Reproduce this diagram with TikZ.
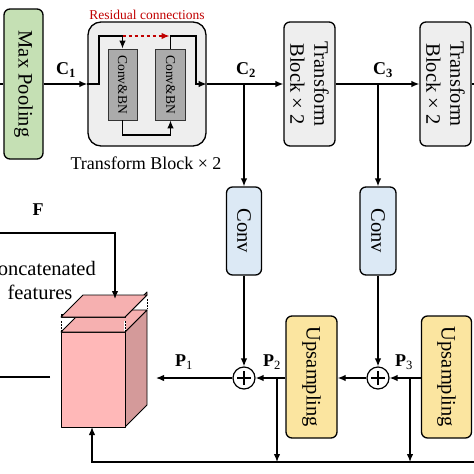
\documentclass[tikz,border=0pt]{standalone}
\usepackage{fontspec}
\setmainfont{Liberation Serif}
\usetikzlibrary{arrows.meta}
\definecolor{mpgreen}{HTML}{C5E0B4}
\definecolor{tbgray}{HTML}{EEEEEE}
\definecolor{cbgray}{HTML}{ABABAB}
\definecolor{convblue}{HTML}{DCE9F5}
\definecolor{upyellow}{HTML}{FBE5A0}
\definecolor{resred}{HTML}{C00000}
\definecolor{cubefront}{HTML}{FFB8B8}
\definecolor{cubetop}{HTML}{F6B0B0}
\definecolor{cubeside}{HTML}{D49A9A}
\tikzset{
  box/.style={draw=black, line width=1.3pt, rounded corners=6pt, inner sep=0pt},
  bigfont/.style={font=\fontsize{20.5}{24}\selectfont, align=center},
  rotlabel/.style={rotate=-90, font=\fontsize{20.5}{24}\selectfont, align=center},
  smallrot/.style={rotate=-90, font=\fontsize{13.5}{15}\selectfont},
  conn/.style={line width=1.3pt},
  arr/.style={line width=1.3pt, -{Latex[length=8pt,width=6.5pt]}},
  resarr/.style={line width=1.3pt, dashed, draw=resred, -{Latex[length=8pt,width=6.5pt]}, resred},
  lbl/.style={font=\fontsize{18}{20}\selectfont},
  plusnode/.style={circle, draw=black, line width=1.2pt, minimum size=22pt, inner sep=0pt, fill=white,
    path picture={\draw[line width=1.1pt] ([xshift=-7pt]path picture bounding box.center) -- ([xshift=7pt]path picture bounding box.center);
                  \draw[line width=1.1pt] ([yshift=-7pt]path picture bounding box.center) -- ([yshift=7pt]path picture bounding box.center);}},
  cubeline/.style={draw=black, line width=0.9pt, line join=round}
}
\begin{document}
\begin{tikzpicture}[x=1pt, y=-1pt]
\useasboundingbox (0,0) rectangle (474,474);

% ---------- top row ----------
\node[box, fill=mpgreen, minimum width=39pt, minimum height=150pt,
      label={[rotlabel]center:Max Pooling}] (mp) at (23.5,84) {};
\node[box, fill=tbgray, rounded corners=13pt, minimum width=118pt, minimum height=124pt] (tb1) at (147,84) {};
\node[draw=black!80, line width=0.8pt, fill=cbgray, minimum width=29pt, minimum height=71pt, inner sep=0pt,
      label={[smallrot]center:Conv\&BN}] (cb1) at (122.5,84.5) {};
\node[draw=black!80, line width=0.8pt, fill=cbgray, minimum width=30pt, minimum height=71pt, inner sep=0pt,
      label={[smallrot]center:Conv\&BN}] (cb2) at (170.5,84.5) {};
\node[box, fill=tbgray, minimum width=51pt, minimum height=124pt,
      label={[rotlabel]center:Transform\\Block × 2}] (tb2) at (309.5,84) {};
\node[box, fill=tbgray, minimum width=51pt, minimum height=124pt,
      label={[rotlabel]center:Transform\\Block × 2}] (tb3) at (445.5,84) {};

\node[font=\fontsize{13.5}{15}\selectfont, text=resred] (reslbl) at (147,15) {Residual connections};
\node[font=\fontsize{18}{20}\selectfont] (tblbl) at (146,163) {Transform Block × 2};

\node[lbl] (c1) at (66,70) {\textbf{C}\textsubscript{\textbf{1}}};
\node[lbl] (c2l) at (246,70) {\textbf{C}\textsubscript{\textbf{2}}};
\node[lbl] (c3l) at (383,70) {\textbf{C}\textsubscript{\textbf{3}}};

\coordinate (in0) at (0,84);
\coordinate (out0) at (474,84);
\draw[conn] (in0) -- (mp.west);
\draw[arr] (mp.east) -- (tb1.west);

% inside transform block
\coordinate (i1) at (99,84);
\coordinate (i2) at (99,36);
\coordinate (i3) at (122.5,36);
\coordinate (i4) at (170.5,36);
\coordinate (i5) at (196,36);
\coordinate (i6) at (196,84);
\coordinate (i7) at (122.5,135);
\draw[arr] (tb1.west) -- (i1) -- (i2) -- (i3) -- (cb1.north);
\draw[resarr] (i3) -- ([xshift=-1pt]i4);
\draw[arr] (cb2.north) -- (i4) -- (i5) -- (i6) -- (tb1.east);
\draw[arr] (cb1.south) -- (i7) -| (cb2.south);

% main line
\coordinate (c2) at (244,84);
\coordinate (c3) at (378,84);
\draw[arr] (tb1.east) -- (tb2.west);
\draw[arr] (tb2.east) -- (tb3.west);
\draw[conn] (tb3.east) -- (out0);

% ---------- conv / plus / upsampling ----------
\node[box, fill=convblue, minimum width=35pt, minimum height=88pt,
      label={[rotlabel]center:Conv}] (conv1) at (244,231) {};
\node[box, fill=convblue, minimum width=36pt, minimum height=88pt,
      label={[rotlabel]center:Conv}] (conv2) at (378,231) {};
\draw[arr] (c2) -- (conv1.north);
\draw[arr] (c3) -- (conv2.north);

\node[plusnode] (plus1) at (244,378) {};
\node[plusnode] (plus2) at (378,378) {};
\draw[arr] (conv1.south) -- (plus1.north);
\draw[arr] (conv2.south) -- (plus2.north);

\node[box, fill=upyellow, minimum width=51pt, minimum height=122pt,
      label={[rotlabel]center:Upsampling}] (up1) at (311.5,377) {};
\node[box, fill=upyellow, minimum width=50pt, minimum height=122pt,
      label={[rotlabel]center:Upsampling}] (up2) at (446.5,377) {};

\draw[arr] (up2.west |- plus2) -- (plus2.east);
\draw[arr] (plus2.west) -- (up1.east |- plus2);
\draw[arr] (up1.west |- plus1) -- (plus1.east);

\node[lbl] (p1l) at (184,362) {\textbf{P}\textsubscript{1}};
\node[lbl] (p2l) at (272,362) {\textbf{P}\textsubscript{2}};
\node[lbl] (p3l) at (404,362) {\textbf{P}\textsubscript{3}};

% branches to bottom line
\coordinate (b2) at (277,378);
\coordinate (b2e) at (277,462);
\coordinate (b3) at (410,378);
\coordinate (b3e) at (410,462);
\draw[arr] (b2) -- (b2e);
\draw[arr] (b3) -- (b3e);

% ---------- cube ----------
\coordinate (fl) at (61,332);
\coordinate (fr) at (125,332);
\coordinate (br) at (125,427);
\coordinate (bl) at (61,427);
\coordinate (tbr) at (147,310);
\coordinate (tbl) at (83,310);
\coordinate (sbr) at (147,405);
\filldraw[cubeline, fill=cubeside] (fr) -- (tbr) -- (sbr) -- (br) -- cycle;
\filldraw[cubeline, fill=cubefront] (fl) -- (fr) -- (br) -- (bl) -- cycle;
\filldraw[cubeline, fill=cubetop] (fl) -- (tbl) -- (tbr) -- (fr) -- cycle;
% slab
\coordinate (sfl) at (61,317);
\coordinate (sfr) at (125,317);
\coordinate (sbl) at (83,295);
\coordinate (sbrr) at (147,295);
\filldraw[cubeline, fill=cubeside] (sfr) -- (sbrr) -- ([yshift=3pt]sbrr) -- ([yshift=3pt]sfr) -- cycle;
\filldraw[cubeline, fill=cubetop] (sfl) -- (sfr) -- ([yshift=3pt]sfr) -- ([yshift=3pt]sfl) -- cycle;
\filldraw[cubeline, fill=cubetop] (sfl) -- (sbl) -- (sbrr) -- (sfr) -- cycle;
% break marks
\draw[white, line width=1.2pt] (61,321) -- (61,331);
\draw[black, line width=0.6pt, dash pattern=on 1.5pt off 1.5pt] (61,321) -- (61,331);
\draw[white, line width=1.2pt] (125,321) -- (125,331);
\draw[black, line width=0.6pt, dash pattern=on 1.5pt off 1.5pt] (125,321) -- (125,331);
\draw[white, line width=1.2pt] (147,299) -- (147,309);
\draw[black, line width=0.6pt, dash pattern=on 1.5pt off 1.5pt] (147,299) -- (147,309);
\coordinate (cubebot) at (92,427);

% P1 into cube
\coordinate (p1end) at (156,378);
\draw[arr] (plus1.west) -- (p1end);

% bottom line
\coordinate (bot0) at (474,462);
\coordinate (bot1) at (92,462);
\draw[arr] (bot0) -- (bot1) -- (cubebot);

% cube output to left
\coordinate (cl0) at (50,377);
\coordinate (cl1) at (0,377);
\draw[conn] (cl0) -- (cl1);

% F input
\node[lbl] (flbl) at (38,210) {\textbf{F}};
\coordinate (f0) at (0,233);
\coordinate (f1) at (115,233);
\coordinate (f2) at (115,299);
\draw[arr] (f0) -- (f1) -- (f2);

\node[bigfont] (concat) at (40,280) {Concatenated\\features};
\end{tikzpicture}
\end{document}
